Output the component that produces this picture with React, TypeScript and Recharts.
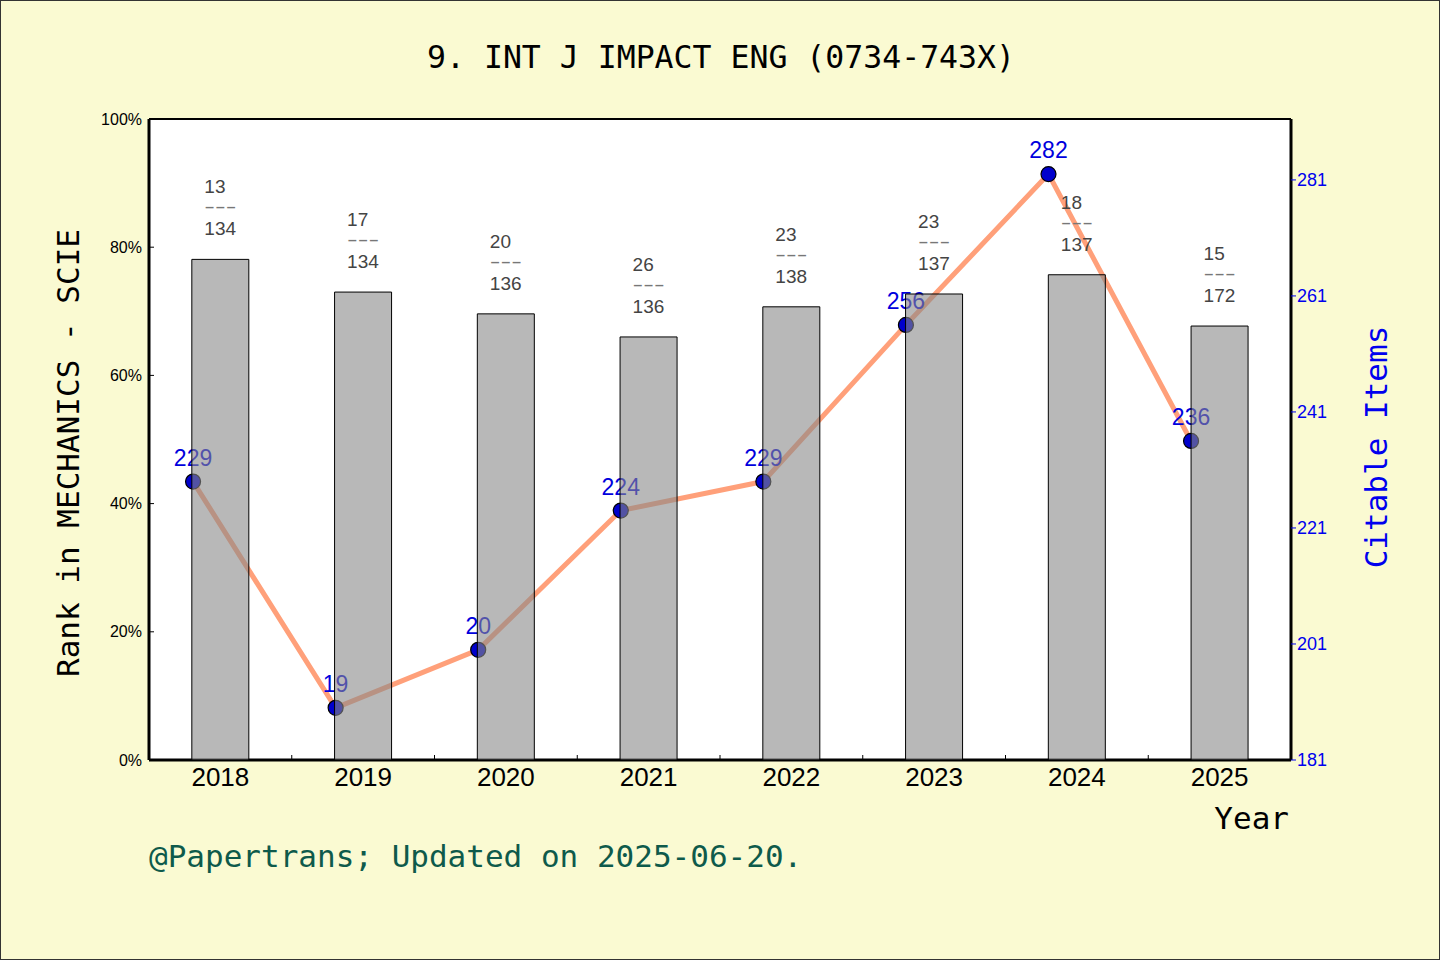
import {
  ComposedChart,
  Bar,
  Line,
  XAxis,
  YAxis,
  CartesianGrid,
  LabelList,
} from "recharts";

const years = ["2018", "2019", "2020", "2021", "2022", "2023", "2024", "2025"];
// bar height, % of the rank axis
const rankPercent = [78.1, 73.0, 69.6, 66.0, 70.7, 72.7, 75.7, 67.7];
const rankPos = [13, 17, 20, 26, 23, 23, 18, 15];
const rankTotal = [134, 134, 136, 136, 138, 137, 137, 172];
const citableItems = [229, 190, 200, 224, 229, 256, 282, 236];
const citableLabels = ["229", "19", "20", "224", "229", "256", "282", "236"];

const leftTicks = [0, 20, 40, 60, 80, 100];
const rightTicks = [181, 201, 221, 241, 261, 281];

const data = years.map((year, i) => ({
  year,
  idx: i,
  rank: rankPercent[i],
  citable: citableItems[i],
}));

const BG = "#FAFAD2";
const MONO = "'DejaVu Sans Mono', monospace";
const SANS = "'Liberation Sans', Arial, sans-serif";

const YearTick = (props: any) => {
  const { x, y, payload, index } = props;
  const half = payload && payload.offset ? payload.offset : 71.4;
  return (
    <g>
      {index > 0 && (
        <line x1={x - half} x2={x - half} y1={y} y2={y - 5} stroke="#000" strokeWidth={1} />
      )}
      <text x={x} y={y + 26} textAnchor="middle" fontFamily={SANS} fontSize={26} fill="#000">
        {payload.value}
      </text>
    </g>
  );
};

const FractionLabel = (props: any) => {
  const { x, y, width, index } = props;
  const left = x + width / 2 - 16;
  return (
    <g>
      <text x={left} y={y - 66} fontFamily={SANS} fontSize={19} fill="#444">
        {rankPos[index]}
      </text>
      <text
        x={left}
        y={y - 46}
        fontFamily={SANS}
        fontSize={19}
        fill="#777"
        textLength={32}
        lengthAdjust="spacingAndGlyphs"
      >
        ---
      </text>
      <text x={left} y={y - 24} fontFamily={SANS} fontSize={19} fill="#444">
        {rankTotal[index]}
      </text>
    </g>
  );
};

const PointLabel = (props: any) => {
  const { x, y, index } = props;
  return (
    <text x={x} y={y - 16} textAnchor="middle" fontFamily={SANS} fontSize={23} fill="#0000DD">
      {citableLabels[index]}
    </text>
  );
};

export default function App() {
  return (
    <div
      style={{
        position: "absolute",
        left: 0,
        top: 0,
        width: 1440,
        height: 960,
        background: BG,
        boxSizing: "border-box",
        border: "1px solid #333",
        overflow: "hidden",
      }}
    >
      <div
        style={{
          position: "absolute",
          left: 0,
          width: 1440,
          top: 36,
          textAlign: "center",
          fontFamily: MONO,
          fontSize: 31.5,
          lineHeight: "40px",
          color: "#000",
        }}
      >
        9. INT J IMPACT ENG (0734-743X)
      </div>

      <div style={{ position: "absolute", left: -1, top: -1 }}>
        <ComposedChart
          width={1440}
          height={960}
          data={data}
          margin={{ top: 117, right: 89, bottom: 160, left: 89 }}
          barCategoryGap="30%"
        >
          <CartesianGrid fill="#fff" horizontal={false} vertical={false} />
          <XAxis
            xAxisId="cat"
            dataKey="year"
            type="category"
            height={40}
            axisLine={{ stroke: "#000", strokeWidth: 3 }}
            tickLine={false}
            tickSize={0}
            tickMargin={0}
            tick={<YearTick />}
            interval={0}
          />
          <XAxis
            xAxisId="line"
            dataKey="idx"
            type="number"
            orientation="top"
            domain={[-0.309, 7.701]}
            height={2}
            tick={false}
            tickLine={false}
            axisLine={{ stroke: "#000", strokeWidth: 2 }}
          />
          <YAxis
            yAxisId="rank"
            domain={[0, 100]}
            ticks={leftTicks}
            width={60}
            tickFormatter={(v) => `${v}%`}
            tick={{ fontFamily: SANS, fontSize: 16, fill: "#000" }}
            tickSize={-5}
            tickMargin={12}
            tickLine={{ stroke: "#000" }}
            axisLine={{ stroke: "#000", strokeWidth: 3 }}
          />
          <YAxis
            yAxisId="cite"
            orientation="right"
            domain={[181, 291.5]}
            ticks={rightTicks}
            width={60}
            allowDataOverflow
            tick={{ fontFamily: SANS, fontSize: 18, fill: "#0000EE" }}
            tickSize={5}
            tickMargin={1}
            tickLine={{ stroke: "#0000EE" }}
            axisLine={{ stroke: "#000", strokeWidth: 3 }}
          />
          <Line
            xAxisId="line"
            yAxisId="cite"
            dataKey="citable"
            stroke="#FFA07A"
            strokeWidth={5}
            dot={{ r: 7.5, fill: "#0000CC", stroke: "#000", strokeWidth: 1.2, fillOpacity: 1 }}
            activeDot={false}
            isAnimationActive={false}
          >
            <LabelList dataKey="citable" content={<PointLabel />} zIndex={1400} />
          </Line>
          <Bar
            xAxisId="cat"
            yAxisId="rank"
            dataKey="rank"
            fill="#898989"
            fillOpacity={0.6}
            stroke="#000"
            strokeWidth={1}
            isAnimationActive={false}
            zIndex={1500}
          >
            <LabelList dataKey="rank" content={<FractionLabel />} />
          </Bar>
        </ComposedChart>
      </div>

      <div
        style={{
          position: "absolute",
          left: 67,
          top: 452,
          transform: "translate(-50%, -50%) rotate(-90deg)",
          whiteSpace: "nowrap",
          fontFamily: MONO,
          fontSize: 31,
          color: "#000",
        }}
      >
        Rank in MECHANICS - SCIE
      </div>
      <div
        style={{
          position: "absolute",
          left: 1375,
          top: 446,
          transform: "translate(-50%, -50%) rotate(-90deg)",
          whiteSpace: "nowrap",
          fontFamily: MONO,
          fontSize: 31,
          color: "#0000EE",
        }}
      >
        Citable Items
      </div>
      <div
        style={{
          position: "absolute",
          right: 150,
          top: 798,
          fontFamily: MONO,
          fontSize: 31,
          lineHeight: "38px",
          color: "#000",
        }}
      >
        Year
      </div>
      <div
        style={{
          position: "absolute",
          left: 148,
          top: 836,
          fontFamily: MONO,
          fontSize: 31,
          lineHeight: "38px",
          color: "#0E5A4B",
          whiteSpace: "nowrap",
        }}
      >
        @Papertrans; Updated on 2025-06-20.
      </div>
    </div>
  );
}
